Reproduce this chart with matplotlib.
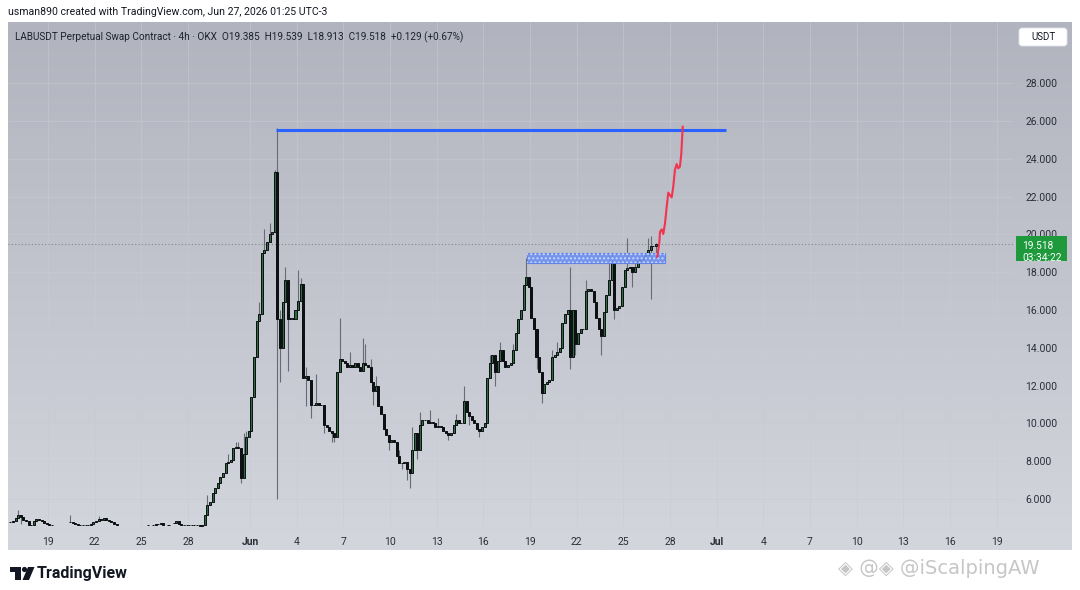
import matplotlib
matplotlib.use("Agg")
import matplotlib.pyplot as plt
import matplotlib.transforms as mtransforms
from matplotlib.colors import LinearSegmentedColormap
from matplotlib.patches import Rectangle, FancyBboxPatch, Polygon, Circle
import numpy as np

plt.rcParams['font.family'] = ['Roboto', 'DejaVu Sans']

# ---- data: 4h closes of LABUSDT, first bar = May 16 12:00 (bar index -15, day 0 = May 19)
first_bar = -15
closes = [
    4.80, 4.85, 5.00, 5.15, 5.05, 4.90, 4.85, 4.60, 4.65, 4.85, 4.95, 4.90, 4.85, 4.75, 4.70, 4.65, 4.62,
    None, None, None, None, None, None,
    4.80, 4.75, 4.70, 4.65, 4.62, 4.60, 4.65, 4.62, 4.70, 4.80, 4.85, 4.95, 4.90, 5.00, 4.90, 4.85,
    4.80, 4.70, 4.65,
    None, None, None, None, None, None, None, None, None, None, None,
    4.62, None, 4.65, 4.70, 4.68, 4.72, 4.65, None, 4.62, None, 4.75, 4.85, 4.70, 4.65, 4.62, 4.60,
    4.62, 4.65, 4.60, 4.62, 4.58, 4.60,
    # May 29 -> Jun 2 rally
    5.15, 5.68, 5.84, 6.32, 6.58, 6.85, 7.16, 7.38, 7.90, 7.95, 8.06, 8.70, 8.75, 8.70, 7.11, 8.40,
    9.30, 9.60, 11.4, 13.5, 15.4, 15.8, 19.0, 19.2, 19.6, 20.0, 20.13, 23.3, 15.5,
    # Jun 2 -> Jun 8
    14.0, 16.4, 17.6, 15.5, 15.6, 15.5, 16.0, 16.5, 17.4, 12.4, 12.5, 12.3, 11.0, 11.0, 11.1, 10.95,
    11.0, 9.9, 9.8, 9.6, 9.5, 9.3, 12.7, 13.4, 13.3, 13.2, 13.0, 13.1, 13.0, 13.2, 13.0, 12.8, 13.2,
    13.1, 13.0, 12.2, 11.7, 12.0, 10.9, 10.5, 9.7, 9.4, 9.0, 9.1,
    # Jun 9 -> Jun 17
    9.0, 8.3, 7.9, 7.9, 7.95, 7.6, 7.4, 8.6, 9.5, 8.6, 9.9, 10.2, 10.2, 10.0, 10.1, 10.0, 9.8, 9.85,
    9.8, 9.6, 9.5, 9.4, 9.5, 9.9, 10.2, 10.0, 10.0, 11.2, 10.6, 10.4, 10.2, 10.0, 9.7, 9.6, 9.8, 10.0,
    12.4, 13.2, 13.6, 12.7, 13.3, 13.9, 13.3, 13.0, 13.1, 13.2, 13.9, 14.8, 15.5, 16.0,
    # Jun 18 -> Jun 27
    17.3, 17.75, 17.2, 15.6, 15.0, 13.5, 12.7, 11.6, 12.1, 12.2, 12.3, 13.5, 13.6, 13.8, 14.0, 15.3,
    15.8, 16.0, 13.5, 16.0, 14.2, 14.8, 15.0, 15.0, 17.0, 17.1, 17.0, 16.4, 15.6, 15.0, 14.6, 15.9,
    16.8, 17.6, 18.5, 16.0, 16.1, 16.2, 17.2, 18.1, 18.2, 18.3, 18.0, 18.3, 18.6, 18.7, 18.75, 18.9,
    19.2, 19.4, 19.385, 19.518,
]
# wick extremes by bar index (otherwise the wick ends at the body)
wick_high = {-12: 5.4, 8: 5.15, 19: 5.1, 61: 6.2, 69: 8.4, 72: 9.0, 73: 9.0, 75: 9.5, 76: 9.6,
             81: 16.4, 83: 20.3, 85: 20.6, 87: 23.4, 88: 25.65, 89: 16.0, 91: 18.3, 96: 18.1,
             97: 17.7, 99: 13.0, 103: 12.6, 112: 15.6, 116: 13.8, 121: 14.5, 122: 14.2, 124: 13.4,
             126: 12.5, 135: 8.6, 140: 9.8, 143: 10.6, 147: 10.7, 150: 10.3, 157: 10.5, 160: 12.0,
             170: 13.6, 174: 14.3, 179: 14.2, 184: 18.75, 194: 13.9, 196: 14.3, 201: 18.3, 207: 17.6,
             216: 18.9, 217: 18.95, 223: 19.8, 226: 18.7, 231: 19.8, 232: 19.9, 234: 19.539}
wick_low = {-11: 4.7, 74: 6.85, 75: 7.9, 88: 6.0, 89: 12.2, 92: 12.8, 99: 10.9, 101: 10.3,
            106: 9.5, 109: 9.0, 110: 9.0, 125: 11.0, 131: 8.6, 136: 7.6, 138: 7.0, 139: 6.6,
            142: 8.1, 154: 9.1, 162: 9.9, 166: 9.3, 172: 12.0, 188: 12.9, 190: 11.1, 201: 12.9,
            203: 13.6, 213: 13.6, 218: 15.5, 221: 16.6, 225: 17.2, 232: 16.6, 234: 18.913}

last_price = 19.518
countdown = "03:34:22"

resistance = 25.5
resistance_days = [14.66, 43.6]
zone_prices = [18.5, 19.0]
zone_days = [30.8, 39.7]

proj_days = [39.18, 39.31, 39.36, 39.47, 39.57, 39.68, 39.79, 39.89, 40.0, 40.11, 40.21,
             40.32, 40.43, 40.53, 40.64, 40.73, 40.82]
proj_prices = [18.82, 19.53, 20.14, 20.27, 20.02, 20.59, 21.47, 22.21, 22.08, 21.96, 22.52,
               23.41, 23.72, 23.50, 23.58, 24.29, 25.70]

tick_days = [0, 3, 6, 9, 13, 16, 19, 22, 25, 28, 31, 34, 37, 40, 43, 46, 49, 52, 55, 58, 61]
tick_labels = ["19", "22", "25", "28", "Jun", "4", "7", "10", "13", "16", "19", "22", "25",
               "28", "Jul", "4", "7", "10", "13", "16", "19"]
price_ticks = [6, 8, 10, 12, 14, 16, 18, 20, 22, 24, 26, 28]

# ---- figure
W, H = 1080, 590
fig = plt.figure(figsize=(10.8, 5.9), dpi=100, facecolor="white")

# gradient chart background
bg = fig.add_axes([8 / W, 1 - 550 / H, 1064 / W, 528 / H])
grad_cmap = LinearSegmentedColormap.from_list("pane", ["#b1b4be", "#d4d6de"])
bg.imshow(np.linspace(0, 1, 256).reshape(-1, 1), aspect="auto", cmap=grad_cmap)
bg.axis("off")

ax = fig.add_axes([8 / W, 1 - 527 / H, 1005 / W, 505 / H])
ax.set_zorder(1)
ax.patch.set_alpha(0)
ax.set_xlim(-2.572, 62.06)
ax.set_ylim(4.52, 31.24)
for s in ax.spines.values():
    s.set_visible(False)

ax.grid(True, color="#c8cbd3", lw=0.6, alpha=0.6, zorder=0)
ax.set_axisbelow(True)
ax.set_xticks(tick_days, tick_labels)
for lab in ax.get_xticklabels():
    if lab.get_text() in ("Jun", "Jul"):
        lab.set_fontweight("bold")
ax.tick_params(axis="x", length=0, pad=7, labelsize=7.5, labelcolor="#2a2e39")
ax.yaxis.tick_right()
ax.set_yticks(price_ticks, [f"{p:.3f}" for p in price_ticks])
ax.tick_params(axis="y", length=0, pad=9, labelsize=7.5, labelcolor="#2a2e39")

# ---- candles
xs, opens, cl, hi, lo = [], [], [], [], []
prev = None
for i, c in enumerate(closes):
    k = first_bar + i
    if c is None:
        prev = None
        continue
    o = prev if prev is not None else c
    xs.append(k / 6 + 1 / 12)
    opens.append(o)
    cl.append(c)
    hi.append(wick_high.get(k, max(o, c)))
    lo.append(wick_low.get(k, min(o, c)))
    prev = c
xs, opens, cl, hi, lo = map(np.array, (xs, opens, cl, hi, lo))
up = cl >= opens
ax.vlines(xs, lo, hi, color="#686b74", lw=0.8, zorder=2)
ax.bar(xs, cl - opens, bottom=opens, width=0.13,
       color=np.where(up, "#2c6b3c", "#0e1114"), edgecolor="#0c0f12", linewidth=0.7, zorder=3)

# last price line and label
ax.axhline(last_price, color="#80848d", lw=0.8, ls=(0, (1, 2)), zorder=1)
blend = mtransforms.blended_transform_factory(ax.transAxes, ax.transData)
ax.add_patch(Rectangle((1.003, last_price - 0.93), 0.051, 1.33, transform=blend,
                       facecolor="#1e9a3d", edgecolor="none", clip_on=False, zorder=5))
ax.text(1.009, last_price - 0.12, f"{last_price:.3f}", transform=blend, color="white",
        fontsize=7.3, va="center", ha="left", zorder=6, clip_on=False)
ax.text(1.009, last_price - 0.78, countdown, transform=blend, color="white",
        fontsize=7.3, va="center", ha="left", zorder=6, clip_on=False)

# resistance line, demand zone, projection
ax.plot(resistance_days, [resistance, resistance], color="#2962ff", lw=2.2, zorder=4,
        solid_capstyle="butt")
ax.add_patch(Rectangle((zone_days[0], zone_prices[0]), zone_days[1] - zone_days[0],
                       zone_prices[1] - zone_prices[0], facecolor="#6c8ff0",
                       edgecolor="#5b7fe6", lw=0.8, alpha=0.9, zorder=4))
ax.add_patch(Rectangle((zone_days[0], zone_prices[0]), zone_days[1] - zone_days[0],
                       zone_prices[1] - zone_prices[0], facecolor="none",
                       edgecolor="#c9d6ff", hatch="....", lw=0, zorder=4))
ax.plot(proj_days, proj_prices, color="#f2344f", lw=1.5, zorder=5, solid_joinstyle="round")

# ---- overlay in pixel coordinates for the TradingView chrome
ov = fig.add_axes([0, 0, 1, 1])
ov.set_xlim(0, W)
ov.set_ylim(H, 0)
ov.axis("off")
ov.set_zorder(2)
ov.patch.set_alpha(0)

ov.text(8, 12, "usman890 created with TradingView.com, Jun 27, 2026 01:25 UTC-3",
        fontsize=7.6, color="#131722", va="center", ha="left")
ov.text(15, 37, "LABUSDT Perpetual Swap Contract \u00b7 4h \u00b7 OKX  O19.385  H19.539  "
        "L18.913  C19.518  +0.129 (+0.67%)", fontsize=7.2, color="#1e222d",
        va="center", ha="left")
ov.add_patch(FancyBboxPatch((1019, 28), 48, 18, boxstyle="round,pad=0,rounding_size=3",
                            facecolor="white", edgecolor="#e0e3eb", lw=0.6))
ov.text(1043, 37.5, "USDT", fontsize=7, color="#131722", ha="center", va="center")

# TradingView logo
ov.add_patch(Polygon([(10, 567), (21, 567), (21, 580), (15, 580), (15, 572), (10, 572)],
                     closed=True, facecolor="#131722", edgecolor="none"))
ov.add_patch(Circle((24.5, 569.5), 2.6, facecolor="#131722", edgecolor="none"))
ov.add_patch(Polygon([(28, 567), (34.5, 567), (29, 580), (22.5, 580)],
                     closed=True, facecolor="#131722", edgecolor="none"))
ov.text(37, 573.5, "TradingView", fontsize=11.5, fontweight="bold", color="#131722",
        ha="left", va="center")

# watermark
ov.text(838, 568, "\u25c8 @\u25c8 @iScalpingAW", fontsize=14, color="#c6c6c6",
        ha="left", va="center", family=["DejaVu Sans"])

fig.savefig("out.png", dpi=100, facecolor="white")
